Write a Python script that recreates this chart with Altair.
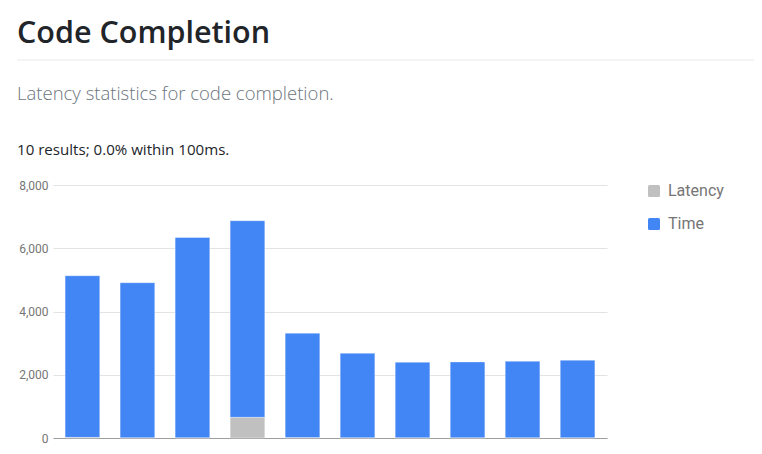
import altair as alt
import pandas as pd

# ---- data ----
runs = ["1", "2", "3", "4", "5", "6", "7", "8", "9", "10"]
latency = [20, 10, 10, 655, 15, 10, 10, 10, 10, 10]
time_vals = [5110, 4900, 6330, 6215, 3300, 2670, 2385, 2395, 2418, 2450]
series = ["Latency", "Time"]
colors = ["#c0c0c0", "#4285f4"]
y_ticks = [0, 2000, 4000, 6000, 8000]

title_text = "Code Completion"
lead_text = "Latency statistics for code completion."
summary_text = "10 results; 0.0% within 100ms."

rows = []
for r, l, t in zip(runs, latency, time_vals):
    rows.append({"run": r, "series": "Latency", "value": l})
    rows.append({"run": r, "series": "Time", "value": t})
df = pd.DataFrame(rows)

rounded_square = ("M -0.75 -1 L 0.75 -1 Q 1 -1 1 -0.75 L 1 0.75 Q 1 1 0.75 1 "
                  "L -0.75 1 Q -1 1 -1 0.75 L -1 -0.75 Q -1 -1 -0.75 -1 Z")

bars = alt.Chart(df).mark_bar(
    stroke="white", strokeOpacity=0.35, strokeWidth=1
).encode(
    x=alt.X("run:N", sort=runs, title=None,
            scale=alt.Scale(paddingInner=0.37, paddingOuter=0.22),
            axis=alt.Axis(labels=False, ticks=False, domain=True,
                          domainColor="#9e9e9e", domainWidth=1.2, grid=False)),
    y=alt.Y("value:Q", stack="zero", title=None,
            scale=alt.Scale(domain=[0, 8000], nice=False),
            axis=alt.Axis(values=y_ticks, format=",d", domain=False, ticks=False,
                          labelPadding=5, labelFont="Roboto", labelFontSize=12,
                          labelColor="#757575", gridColor="#e3e3e3")),
    color=alt.Color("series:N", scale=alt.Scale(domain=series, range=colors),
                    legend=alt.Legend(title=None, orient="none", legendX=593, legendY=-2,
                                      symbolType=rounded_square, symbolSize=144,
                                      symbolStrokeWidth=0, symbolOpacity=1,
                                      labelFont="Roboto", labelFontSize=16,
                                      labelColor="#757575", labelOffset=6,
                                      rowPadding=17, padding=0)),
    order=alt.Order("series:N", sort="ascending"),
)

blank = alt.Data(values=[{"k": 0}])

title = alt.Chart(blank).mark_text(
    x=-36, y=-142, align="left", baseline="alphabetic",
    font="Open Sans", fontSize=30.5, fontWeight=600, color="#212529"
).encode(text=alt.value(title_text))

hr = alt.Chart(blank).mark_rule(color="#e9e9e9", strokeWidth=1).encode(
    x=alt.value(-36), x2=alt.value(701), y=alt.value(-125)
)

lead = alt.Chart(blank).mark_text(
    x=-36, y=-85, align="left", baseline="alphabetic",
    font="Open Sans", fontSize=18.5, fontWeight=300, color="#6c757d"
).encode(text=alt.value(lead_text))

summary = alt.Chart(blank).mark_text(
    x=-36, y=-30, align="left", baseline="alphabetic",
    font="Open Sans", fontSize=15.1, fontWeight=400, color="#212529"
).encode(text=alt.value(summary_text))

chart = alt.layer(bars, title, hr, lead, summary).properties(
    width=554, height=253,
    autosize=alt.AutoSizeParams(type="none"),
    padding={"left": 45, "top": 177, "right": 147, "bottom": 8},
).configure_view(stroke=None)

chart.save("out.html", embed_options={"renderer": "svg", "actions": False})
